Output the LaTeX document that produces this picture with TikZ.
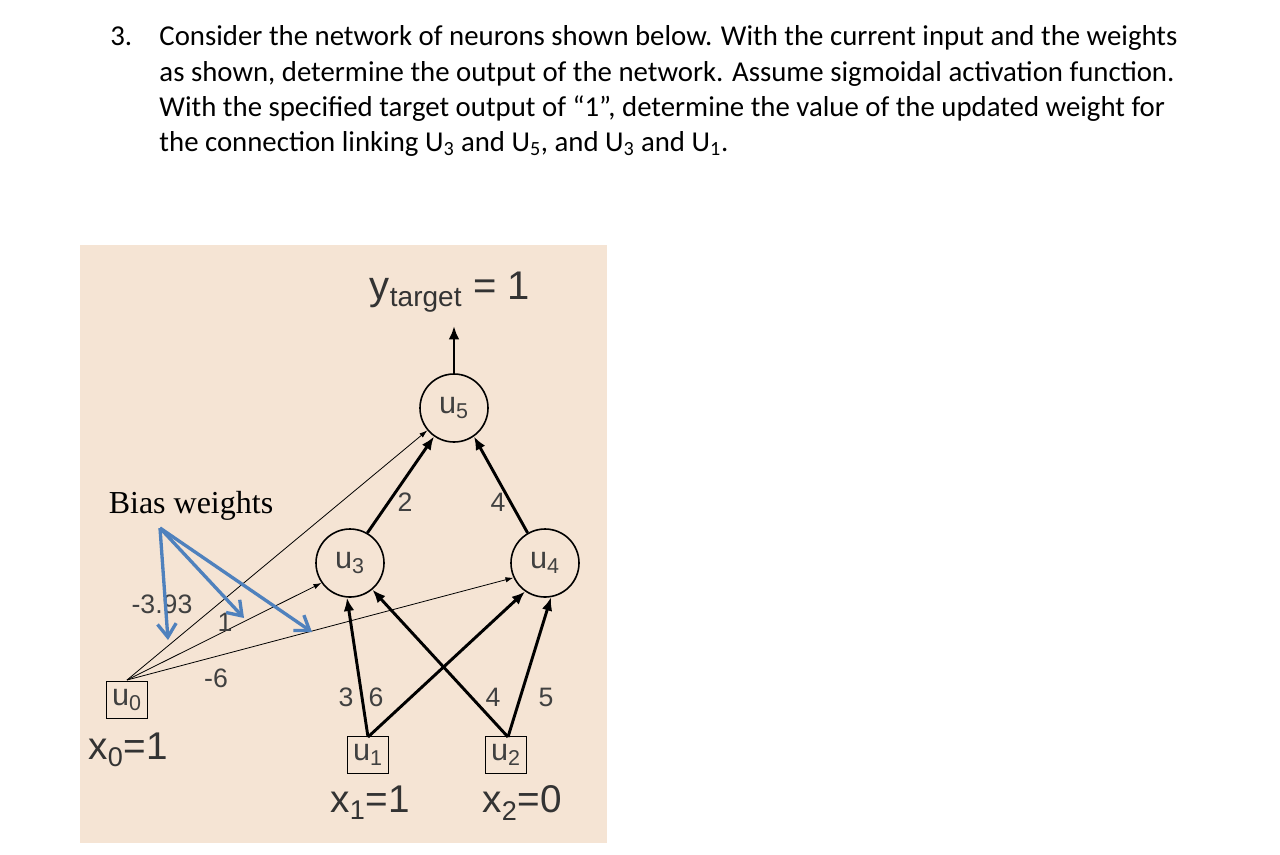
\documentclass[tikz,border=0pt]{standalone}
\usepackage{fontspec}
\setmainfont{Carlito}
\newfontfamily\arial{Liberation Sans}
\newfontfamily\tnr{Liberation Serif}
\usetikzlibrary{arrows.meta}
\definecolor{bg}{HTML}{F5E4D4}
\definecolor{bluearr}{HTML}{4F81BD}
\begin{document}
\begin{tikzpicture}[x=0.75pt,y=-0.75pt,
  neuron/.style={circle,draw,line width=1.2pt,minimum size=51pt,inner sep=0pt,font=\arial\fontsize{23}{23}\selectfont,text=black!75},
  inp/.style={rectangle,draw,line width=1.2pt,minimum width=31pt,minimum height=28pt,inner sep=0pt,font=\arial\fontsize{23}{23}\selectfont,text=black!75},
  thick arr/.style={line width=2.2pt,-{Latex[length=10pt,width=8pt]}},
  thin arr/.style={line width=0.6pt,-{Latex[length=6pt,width=4pt]}},
  blue arr/.style={bluearr,line width=2.5pt,-{Straight Barb[length=10pt,width=14pt]}},
  wlab/.style={font=\arial\fontsize{20}{20}\selectfont,text=black!75,inner sep=1pt},
  vlab/.style={font=\arial\fontsize{29}{29}\selectfont,inner sep=0pt,text=black!80}]
\useasboundingbox (0,0) rectangle (1280,854);
\fill[white] (0,0) rectangle (1280,854);
\node[anchor=north west,align=left,inner sep=0pt,font=\fontsize{21.6}{26.4}\selectfont] (q) at (110,21)
 {3.\hspace{0.95em}\begin{tabular}[t]{@{}l@{}}Consider the network of neurons shown below. With the current input and the weights\\
 as shown, determine the output of the network. Assume sigmoidal activation function.\\
 With the specified target output of “1”, determine the value of the updated weight for\\
 the connection linking U\textsubscript{3} and U\textsubscript{5}, and U\textsubscript{3} and U\textsubscript{1}.\end{tabular}};
\fill[bg] (80,245) rectangle (607,843);
\node[neuron] (u5) at (454,408) {u\textsubscript{5}};
\node[neuron] (u3) at (350,563) {u\textsubscript{3}};
\node[neuron] (u4) at (545,563) {u\textsubscript{4}};
\node[inp] (u0) at (127,700) {u\textsubscript{0}};
\node[inp] (u1) at (368,755) {u\textsubscript{1}};
\node[inp] (u2) at (506,755) {u\textsubscript{2}};
\node[vlab] (x0) at (128,750) {x\textsubscript{0}=1};
\node[vlab] (x1) at (370,803) {x\textsubscript{1}=1};
\node[vlab] (x2) at (522,803) {x\textsubscript{2}=0};
\node[font=\arial\fontsize{30}{30}\selectfont,inner sep=0pt,text=black!80] (yt) at (450,292) {y\textsubscript{target} = 1};
\coordinate (ytb) at (454,326);
\draw[thick arr] (u5.north) -- (ytb);
\coordinate (o0) at (127,680);
\coordinate (o1) at (368,737);
\coordinate (o2) at (508,737);
\draw[thin arr] (o0) -- (u5.220);
\draw[thin arr] (o0) -- (u3.215);
\draw[thin arr] (o0) -- (u4.205);
\draw[thick arr] (u3.60) -- (u5.235);
\draw[thick arr] (u4.120) -- (u5.305);
\draw[thick arr] (o1) -- (u3.265);
\draw[thick arr] (o1) -- (u4.235);
\draw[thick arr] (o2) -- (u3.310);
\draw[thick arr] (o2) -- (u4.280);
\node[wlab] (w2) at (405,502) {2};
\node[wlab] (w4) at (498,502) {4};
\node[wlab] (w393) at (162,604) {-3.93};
\node[wlab] (w1) at (225,622) {1};
\node[wlab] (w6n) at (216,678) {-6};
\node[wlab] (w3) at (346,697) {3};
\node[wlab] (w6) at (376,697) {6};
\node[wlab] (w4b) at (493,697) {4};
\node[wlab] (w5) at (546,697) {5};
\node[font=\tnr\fontsize{24}{24}\selectfont,inner sep=0pt] (bias) at (191,506) {Bias weights};
\coordinate (bo) at (160,528);
\coordinate (b1) at (168,640);
\coordinate (b2) at (244,618);
\coordinate (b3) at (312,632);
\draw[blue arr] (bo) -- (b1);
\draw[blue arr] (bo) -- (b2);
\draw[blue arr] (bo) -- (b3);
\end{tikzpicture}
\end{document}
